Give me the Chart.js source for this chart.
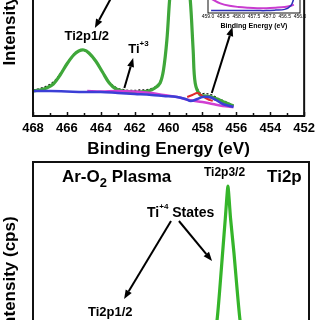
<!DOCTYPE html>
<html><head><meta charset="utf-8">
<script src="https://cdn.jsdelivr.net/npm/chart.js@4"></script>
<style>
html,body{margin:0;padding:0;width:320px;height:320px;overflow:hidden;background:#fff;position:relative}
canvas{position:absolute;display:block}
</style></head><body>
<canvas id="cTop" width="320" height="280" style="left:0;top:-110px"></canvas>
<canvas id="cInset" width="125" height="70" style="left:190px;top:-40px"></canvas>
<canvas id="cBot" width="320" height="250" style="left:0;top:150px"></canvas>
<script>
// ---------- data (binding energy in eV, intensity in arbitrary cps units) ----------
const topEnergy = [468.0,467.6,467.2,466.8,466.4,466.0,465.6,465.3,465.0,464.7,464.3,463.9,463.5,463.1,462.7,462.2,461.7,461.2,460.8,460.5,460.3,460.1,459.94,459.75,459.55,459.35,459.15,458.95,458.72,458.55,458.43,458.14,457.8,457.45,457.0,456.6,456.17];
const topEnvelope = [250,260,280,320,410,520,610,650,660,630,550,440,330,270,250,240,240,250,280,330,460,760,1160,1510,1760,1860,1760,1510,1160,660,330,210,200,190,160,130,100];
const topRaw = [260,275,300,340,420,525,615,650,655,625,545,445,340,285,265,255,260,265,290,345,470,770,1150,1500,1750,1850,1750,1500,1150,670,350,230,225,210,170,140,105];
const bgEnergy = [468,467,466,465,464,463,462,461,460.3,459.5,459.0,458.7,458.3,458.0,457.6,457.2,456.8,456.17];
const bgValues = [250,250,245,240,240,230,220,210,200,190,170,150,170,190,190,160,120,90];
const ti3Energy = [464.8,464,463,462,461,460.3,459.5,458.8,458,457.4,456.8,456.17];
const ti3Values = [250,245,250,245,230,210,190,160,140,120,100,90];
const redEnergy = [458.9,458.6,458.3,458.0,457.7,457.4];
const redValues = [190,210,230,200,170,150];
const insetEnergy = [458.9,458.6,458.3,458.0,457.7,457.4,457.1,456.8,456.5,456.3,456.2];
const insetMagenta = [60,40,30,25,22,20,20,22,25,30,35];
const insetBlue = [10,10,10,10,10,10,10,12,15,30,60];
const botEnergy = [460,459,458.3,457.9,457.6,457.33,457.0,456.85,456.7,456.55,456.35,456.0,455.7,455.3,454.5,453];
const botValues = [60,110,260,410,530,660,1350,1680,2000,1680,1330,660,460,260,110,60];
const xTicks = [468,466,464,462,460,458,456,454,452];
const insetTicks = [459.0,458.5,458.0,457.5,457.0,456.5,456.0];

// annotations in data units
const topTexts = [
  {x:466.14, y:760, parts:[{t:'Ti2p1/2', s:13}]},
  {x:462.38, y:630, parts:[{t:'Ti', s:13},{t:'+3', s:8, dy:-7}]}
];
const topArrows = [[463.36,1190,464.35,880],[462.61,280,462.09,580],[457.45,230,456.23,890]];
const botTexts = [
  {x:466.32, y:2040, parts:[{t:'Ar-O', s:17},{t:'2', s:13, dy:5},{t:' Plasma', s:17}]},
  {x:458.09, y:2100, parts:[{t:'Ti2p3/2', s:12}]},
  {x:454.43, y:2040, parts:[{t:'Ti2p', s:17}]},
  {x:461.39, y:1690, parts:[{t:'Ti', s:14},{t:'+4', s:8, dy:-8},{t:' States', s:14}]},
  {x:464.81, y:700, parts:[{t:'Ti2p1/2', s:13}]}
];
const botArrows = [[460.0,1650,462.72,870],[459.54,1650,457.62,1250]];

const FONT = '"Liberation Sans", Arial, Helvetica, sans-serif';
Chart.defaults.font.family = FONT;
Chart.defaults.color = '#000';

const pts = (xs, ys) => xs.map((x, i) => ({x, y: ys[i]}));

const annot = {
  id: 'annot',
  afterDraw(chart, args, o) {
    const {ctx, scales: {x, y}, chartArea: ca} = chart;
    ctx.save();
    ctx.strokeStyle = '#111'; ctx.lineWidth = o.frame || 2;
    ctx.strokeRect(ca.left, ca.top, ca.right - ca.left, ca.bottom - ca.top);
    if (o.ticks) {
      ctx.lineWidth = 1.5;
      for (let v = 452; v <= 468; v++) {
        const px = Math.round(x.getPixelForValue(v)) + 0.5;
        ctx.beginPath(); ctx.moveTo(px, ca.bottom); ctx.lineTo(px, ca.bottom - (v % 2 === 0 ? 4 : 3)); ctx.stroke();
      }
    }
    ctx.fillStyle = '#000'; ctx.strokeStyle = '#000';
    (o.arrows || []).forEach(a => {
      const x1 = x.getPixelForValue(a[0]), y1 = y.getPixelForValue(a[1]);
      const x2 = x.getPixelForValue(a[2]), y2 = y.getPixelForValue(a[3]);
      const ang = Math.atan2(y2 - y1, x2 - x1), hl = 9, hw = 3.5;
      const bx = x2 - hl * Math.cos(ang), by = y2 - hl * Math.sin(ang);
      ctx.lineWidth = 2;
      ctx.beginPath(); ctx.moveTo(x1, y1); ctx.lineTo(bx, by); ctx.stroke();
      ctx.beginPath(); ctx.moveTo(x2, y2);
      ctx.lineTo(bx + hw * Math.sin(ang), by - hw * Math.cos(ang));
      ctx.lineTo(bx - hw * Math.sin(ang), by + hw * Math.cos(ang));
      ctx.closePath(); ctx.fill();
    });
    (o.texts || []).forEach(t => {
      let px = x.getPixelForValue(t.x); const py = y.getPixelForValue(t.y);
      ctx.textBaseline = 'alphabetic'; ctx.textAlign = 'left';
      t.parts.forEach(p => {
        ctx.font = 'bold ' + p.s + 'px ' + FONT;
        ctx.fillText(p.t, px, py + (p.dy || 0));
        px += ctx.measureText(p.t).width;
      });
    });
    ctx.restore();
  }
};

const line = (data, color, w, extra) => Object.assign({data, borderColor: color, borderWidth: w, pointRadius: 0, tension: 0.35, fill: false}, extra || {});

// ---------- top panel ----------
new Chart(document.getElementById('cTop'), {
  type: 'line',
  data: {datasets: [
    line(pts(bgEnergy, bgValues), '#3b3fd6', 2.5),
    line(pts(ti3Energy, ti3Values), '#d23fd2', 2.5),
    line(pts(redEnergy, redValues), '#e02a2a', 2),
    line(pts(topEnergy, topEnvelope), '#3fa73a', 3.2),
    line(pts(topEnergy, topRaw), '#111', 1.3, {borderDash: [2, 2]})
  ]},
  options: {
    responsive: false, animation: false, devicePixelRatio: 1,
    layout: {padding: {left: 0, right: 11, top: 10, bottom: 0}},
    plugins: {legend: {display: false}, tooltip: {enabled: false},
      annot: {texts: topTexts, arrows: topArrows, ticks: true}},
    scales: {
      x: {type: 'linear', min: 452, max: 468, reverse: true,
        afterBuildTicks: s => { s.ticks = xTicks.map(v => ({value: v})); },
        afterFit: s => { s.height = 54; },
        ticks: {font: {size: 13, weight: 'bold'}, padding: 5, autoSkip: false, maxRotation: 0},
        grid: {display: false, drawTicks: false}, border: {display: false},
        title: {display: true, text: 'Binding Energy (eV)', font: {size: 17, weight: 'bold'}, padding: {top: 0, bottom: 10}}},
      y: {min: 0, max: 2160, afterFit: s => { s.width = 33; },
        ticks: {display: false}, grid: {display: false, drawTicks: false}, border: {display: false},
        title: {display: true, text: 'Intensity (cps)', font: {size: 17, weight: 'bold'}, padding: {top: 0, bottom: 0}}}
    }
  },
  plugins: [annot]
});

// ---------- inset ----------
new Chart(document.getElementById('cInset'), {
  type: 'line',
  data: {datasets: [
    line(pts(insetEnergy, insetBlue), '#2b2fb8', 1.5),
    line(pts(insetEnergy, insetMagenta), '#c93ccf', 2)
  ]},
  options: {
    responsive: false, animation: false, devicePixelRatio: 1,
    layout: {padding: {left: 0, right: 15, top: 5, bottom: 0}},
    plugins: {legend: {display: false}, tooltip: {enabled: false}, annot: {frame: 1}},
    scales: {
      x: {type: 'linear', min: 456, max: 459, reverse: true,
        afterBuildTicks: s => { s.ticks = insetTicks.map(v => ({value: v})); },
        afterFit: s => { s.height = 17; },
        ticks: {font: {size: 5}, padding: 1, autoSkip: false, maxRotation: 0, callback: v => v.toFixed(1)},
        grid: {display: false, drawTicks: false}, border: {display: false},
        title: {display: true, text: 'Binding Energy (eV)', font: {size: 7, weight: 'bold'}, padding: {top: 0, bottom: 0}}},
      y: {min: 0, max: 200, afterFit: s => { s.width = 18; },
        ticks: {display: false}, grid: {display: false, drawTicks: false}, border: {display: false}}
    }
  },
  plugins: [annot]
});

// ---------- bottom panel ----------
new Chart(document.getElementById('cBot'), {
  type: 'line',
  data: {datasets: [line(pts(botEnergy, botValues), '#35b52a', 3.2, {tension: 0.15})]},
  options: {
    responsive: false, animation: false, devicePixelRatio: 1,
    layout: {padding: {left: 0, right: 11, top: 12, bottom: 0}},
    plugins: {legend: {display: false}, tooltip: {enabled: false},
      annot: {texts: botTexts, arrows: botArrows}},
    scales: {
      x: {type: 'linear', min: 452, max: 468, reverse: true,
        afterFit: s => { s.height = 14; },
        ticks: {display: false}, grid: {display: false, drawTicks: false}, border: {display: false}},
      y: {min: 0, max: 2240, afterFit: s => { s.width = 33; },
        ticks: {display: false}, grid: {display: false, drawTicks: false}, border: {display: false},
        title: {display: true, text: 'Intensity (cps)', font: {size: 17, weight: 'bold'}, padding: {top: 0, bottom: 0}}}
    }
  },
  plugins: [annot]
});
</script>
</body></html>
